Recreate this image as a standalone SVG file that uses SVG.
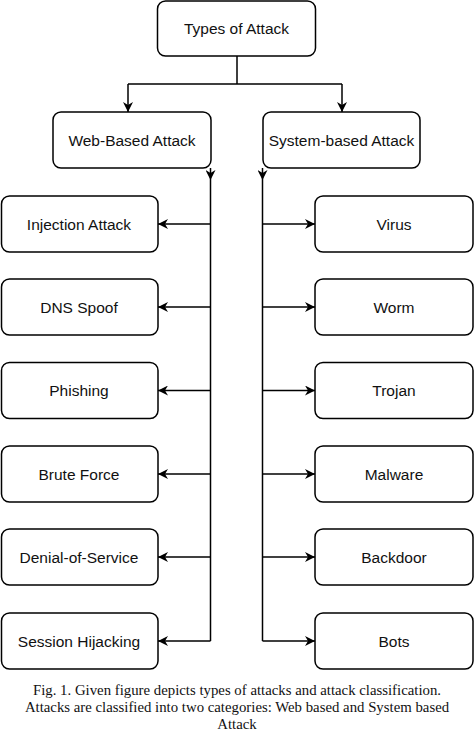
<svg xmlns="http://www.w3.org/2000/svg" width="474" height="732" viewBox="0 0 474 732">
<defs>
<marker id="arr" viewBox="0 0 10 10" refX="10" refY="5" markerWidth="10" markerHeight="10" markerUnits="userSpaceOnUse" orient="auto">
<path d="M0,0 L10,5 L0,10 L3,5 Z" fill="#000"/>
</marker>
</defs>
<style>
.box{fill:#fff;stroke:#000;stroke-width:1.5}
.lbl{font-family:"Liberation Sans",Arial,sans-serif;font-size:15.5px;text-anchor:middle;dominant-baseline:central;fill:#111}
.edge{fill:none;stroke:#000;stroke-width:1.5}
.cap{font-family:"Liberation Serif","Times New Roman",serif;font-size:14.8px;text-anchor:middle;fill:#111}
</style>
<rect width="474" height="732" fill="#fff"/>
<g id="connectors">
<path class="edge" d="M237,56 V84 M128,84 H342"/>
<path class="edge" d="M128,84 V112" marker-end="url(#arr)"/>
<path class="edge" d="M342,84 V112" marker-end="url(#arr)"/>
<path class="edge" d="M210.5,168 V180" marker-end="url(#arr)"/>
<path class="edge" d="M262.5,168 V180" marker-end="url(#arr)"/>
<path class="edge" d="M210.5,180 V641"/>
<path class="edge" d="M262.5,180 V641"/>
<path class="edge" d="M210.5,224 H158" marker-end="url(#arr)"/>
<path class="edge" d="M210.5,307 H158" marker-end="url(#arr)"/>
<path class="edge" d="M210.5,390.5 H158" marker-end="url(#arr)"/>
<path class="edge" d="M210.5,474 H158" marker-end="url(#arr)"/>
<path class="edge" d="M210.5,557 H158" marker-end="url(#arr)"/>
<path class="edge" d="M210.5,641 H158" marker-end="url(#arr)"/>
<path class="edge" d="M262.5,224 H315" marker-end="url(#arr)"/>
<path class="edge" d="M262.5,307 H315" marker-end="url(#arr)"/>
<path class="edge" d="M262.5,390.5 H315" marker-end="url(#arr)"/>
<path class="edge" d="M262.5,474 H315" marker-end="url(#arr)"/>
<path class="edge" d="M262.5,557 H315" marker-end="url(#arr)"/>
<path class="edge" d="M262.5,641 H315" marker-end="url(#arr)"/>
</g>
<g id="types"><rect class="box" x="157.5" y="1" width="158" height="55" rx="8"/><text class="lbl" x="236.5" y="28.5">Types of Attack</text></g>
<g id="web"><rect class="box" x="53" y="112" width="158" height="56" rx="8"/><text class="lbl" x="132" y="140">Web-Based Attack</text></g>
<g id="system"><rect class="box" x="263" y="112" width="157" height="56" rx="8"/><text class="lbl" x="341.5" y="140">System-based Attack</text></g>
<g id="injection"><rect class="box" x="1.5" y="196" width="156.5" height="56" rx="8"/><text class="lbl" x="79" y="224">Injection Attack</text></g>
<g id="dns"><rect class="box" x="1.5" y="279" width="156.5" height="56" rx="8"/><text class="lbl" x="79" y="307">DNS Spoof</text></g>
<g id="phishing"><rect class="box" x="1.5" y="362.5" width="156.5" height="56" rx="8"/><text class="lbl" x="79" y="390.5">Phishing</text></g>
<g id="brute"><rect class="box" x="1.5" y="446" width="156.5" height="56" rx="8"/><text class="lbl" x="79" y="474">Brute Force</text></g>
<g id="dos"><rect class="box" x="1.5" y="529" width="156.5" height="56" rx="8"/><text class="lbl" x="79" y="557">Denial-of-Service</text></g>
<g id="session"><rect class="box" x="1.5" y="613" width="156.5" height="56" rx="8"/><text class="lbl" x="79" y="641">Session Hijacking</text></g>
<g id="virus"><rect class="box" x="315" y="196" width="158" height="56" rx="8"/><text class="lbl" x="394" y="224">Virus</text></g>
<g id="worm"><rect class="box" x="315" y="279" width="158" height="56" rx="8"/><text class="lbl" x="394" y="307">Worm</text></g>
<g id="trojan"><rect class="box" x="315" y="362.5" width="158" height="56" rx="8"/><text class="lbl" x="394" y="390.5">Trojan</text></g>
<g id="malware"><rect class="box" x="315" y="446" width="158" height="56" rx="8"/><text class="lbl" x="394" y="474">Malware</text></g>
<g id="backdoor"><rect class="box" x="315" y="529" width="158" height="56" rx="8"/><text class="lbl" x="394" y="557">Backdoor</text></g>
<g id="bots"><rect class="box" x="315" y="613" width="158" height="56" rx="8"/><text class="lbl" x="394" y="641">Bots</text></g>
<g id="caption">
<text class="cap" x="237" y="695">Fig. 1. Given figure depicts types of attacks and attack classification.</text>
<text class="cap" x="237" y="712">Attacks are classified into two categories: Web based and System based</text>
<text class="cap" x="237" y="729">Attack</text>
</g>
</svg>
